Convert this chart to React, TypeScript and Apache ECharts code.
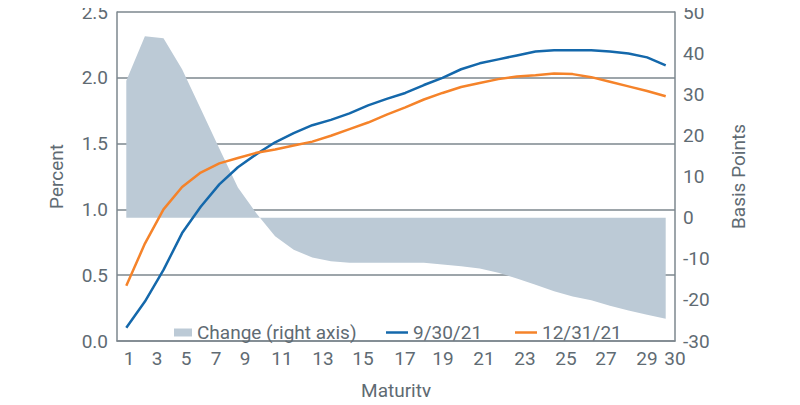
import React, { useEffect, useRef } from "react";
import * as echarts from "echarts";

// ---- data ----
const maturities = [
  "1", "2", "3", "4", "5", "6", "7", "8", "9", "10",
  "11", "12", "13", "14", "15", "16", "17", "18", "19", "20",
  "21", "22", "23", "24", "25", "26", "27", "28", "29", "30",
];

const yields0930 = [
  0.10, 0.30, 0.54, 0.82, 1.02, 1.19, 1.32, 1.42, 1.51, 1.58,
  1.64, 1.68, 1.73, 1.79, 1.84, 1.885, 1.945, 2.00, 2.065, 2.11,
  2.14, 2.17, 2.20, 2.21, 2.21, 2.21, 2.20, 2.185, 2.155, 2.095,
];

const yields1231 = [
  0.42, 0.74, 1.00, 1.17, 1.28, 1.35, 1.39, 1.43, 1.455, 1.485,
  1.515, 1.56, 1.61, 1.66, 1.72, 1.775, 1.835, 1.885, 1.93, 1.96,
  1.99, 2.01, 2.02, 2.033, 2.028, 2.005, 1.97, 1.935, 1.90, 1.86,
];

const changeBp = [
  33.3, 44.1, 43.6, 36.1, 26.5, 16.8, 7.3, 1.0, -4.5, -7.8,
  -9.7, -10.6, -11.0, -11.0, -11.0, -11.0, -11.0, -11.4, -11.8, -12.4,
  -13.4, -14.8, -16.3, -17.9, -19.2, -20.1, -21.4, -22.6, -23.6, -24.6,
];

const xTickLabels = ["1", "3", "5", "7", "9", "11", "13", "15", "17", "19", "21", "23", "25", "27", "29", "30"];

// ---- layout (pixel offsets of the tick labels from the plot's left edge) ----
const xTickOffsets = [12, 40, 69, 99, 128, 165, 206, 246, 288, 326, 367, 408, 449, 489, 530, 558];
const PLOT_W = 558;

const TEXT = "#5f6b73";
const AXIS = "#7d878e";
const BLUE = "#1468ab";
const ORANGE = "#f5832a";
const AREA = "#bccad6";
const FONT = "Roboto";

const RECT_ICON = "path://M0,0 L18,0 L18,8 L0,8 Z";
const LINE_ICON = "path://M0,0 L22,0 L22,2.5 L0,2.5 Z";

export default function App() {
  const ref = useRef<HTMLDivElement>(null);

  useEffect(() => {
    if (!ref.current) return;
    const chart = echarts.init(ref.current, null, { renderer: "svg" });
    const textStyle = { color: TEXT, fontSize: 19, fontFamily: FONT };
    const legendBase = {
      top: 323, padding: 0, itemHeight: 8, textStyle, selectedMode: false, itemGap: 0,
    };
    chart.setOption({
      animation: false,
      backgroundColor: "#ffffff",
      textStyle: { fontFamily: FONT },
      grid: { left: 117, right: 125, top: 12, bottom: 59, containLabel: false },
      legend: [
        { ...legendBase, data: [{ name: "Change (right axis)", icon: RECT_ICON }], left: 174, itemWidth: 18 },
        { ...legendBase, data: [{ name: "9/30/21", icon: LINE_ICON }], left: 386, itemWidth: 22 },
        { ...legendBase, data: [{ name: "12/31/21", icon: LINE_ICON }], left: 515, itemWidth: 22 },
      ],
      xAxis: [
        {
          type: "value",
          gridIndex: 0,
          position: "bottom",
          min: 0,
          max: PLOT_W,
          name: "Maturity",
          nameLocation: "middle",
          nameGap: 40,
          nameTextStyle: textStyle,
          axisLine: { show: true, onZero: false, lineStyle: { color: AXIS, width: 1.5 } },
          axisTick: { show: false },
          splitLine: { show: false },
          axisLabel: {
            ...textStyle,
            margin: 8,
            customValues: xTickOffsets,
            showMinLabel: true,
            showMaxLabel: true,
            formatter: (v: number) => {
              const i = xTickOffsets.indexOf(v);
              return i >= 0 ? xTickLabels[i] : "";
            },
          },
        },
        {
          type: "category",
          gridIndex: 0,
          position: "bottom",
          data: maturities,
          boundaryGap: true,
          axisLine: { show: false },
          axisTick: { show: false },
          axisLabel: { show: false },
          splitLine: { show: false },
        },
      ],
      yAxis: [
        {
          type: "value",
          min: 0,
          max: 2.5,
          interval: 0.5,
          position: "left",
          name: "Percent",
          nameLocation: "middle",
          nameGap: 51,
          nameTextStyle: textStyle,
          axisLine: { show: true, lineStyle: { color: AXIS, width: 1.5 } },
          axisTick: { show: false },
          splitLine: { show: true, lineStyle: { color: AXIS, width: 1.5 } },
          axisLabel: { ...textStyle, margin: 9, formatter: (v: number) => v.toFixed(1) },
        },
        {
          type: "value",
          min: -30,
          max: 50,
          interval: 10,
          position: "right",
          name: "Basis Points",
          nameLocation: "middle",
          nameGap: 54,
          nameTextStyle: textStyle,
          axisLine: { show: true, lineStyle: { color: AXIS, width: 1.5 } },
          axisTick: { show: false },
          splitLine: { show: false },
          axisLabel: { ...textStyle, margin: 8 },
        },
      ],
      series: [
        {
          name: "Change (right axis)",
          type: "line",
          xAxisIndex: 1,
          yAxisIndex: 1,
          data: changeBp,
          symbol: "none",
          itemStyle: { color: AREA },
          lineStyle: { width: 0, color: AREA },
          areaStyle: { color: AREA, opacity: 1 },
          z: 1,
        },
        {
          name: "9/30/21",
          type: "line",
          xAxisIndex: 1,
          yAxisIndex: 0,
          data: yields0930,
          symbol: "none",
          itemStyle: { color: BLUE },
          lineStyle: { width: 2.5, color: BLUE },
          z: 3,
        },
        {
          name: "12/31/21",
          type: "line",
          xAxisIndex: 1,
          yAxisIndex: 0,
          data: yields1231,
          symbol: "none",
          itemStyle: { color: ORANGE },
          lineStyle: { width: 2.5, color: ORANGE },
          z: 3,
        },
      ],
    });
    return () => chart.dispose();
  }, []);

  return <div ref={ref} style={{ width: 800, height: 405, margin: -8 }} />;
}
